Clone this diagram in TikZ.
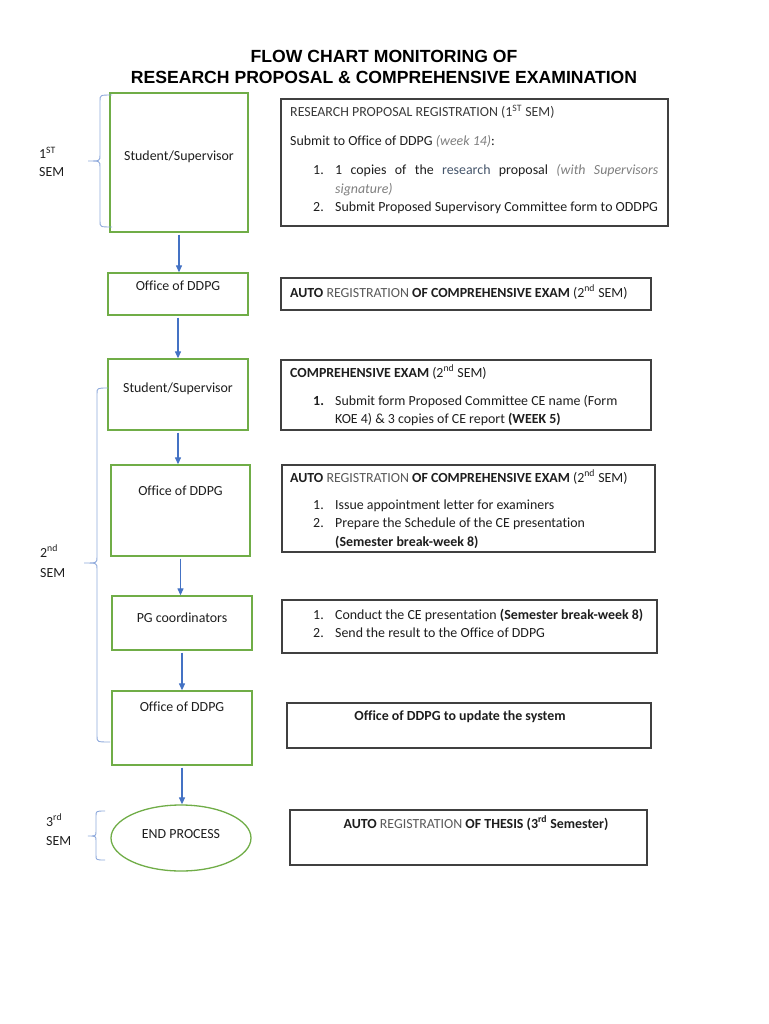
\documentclass[tikz,border=0pt]{standalone}
\usepackage{fontspec}
\setmainfont{Carlito}[Ligatures=NoCommon]
\newfontfamily\titlefont{Liberation Sans}
\usetikzlibrary{arrows.meta,shapes.geometric}

\definecolor{flowgreen}{HTML}{70AD47}
\definecolor{flowblue}{HTML}{4472C4}
\definecolor{bracelite}{HTML}{8FAADC}
\definecolor{regrey}{HTML}{595959}
\definecolor{notegrey}{HTML}{7F7F7F}
\definecolor{inkgrey}{HTML}{1E1E1E}
\definecolor{headgrey}{HTML}{3A3A3A}
\definecolor{boxline}{HTML}{404040}
\definecolor{resblue}{HTML}{44546A}

\newcommand{\ceitem}[2]{\hangindent=45pt\hangafter=1\relax\hspace*{23pt}\makebox[22pt][l]{#1}#2\par}
\newcommand{\regword}{\textcolor{regrey}{REGISTRATION}}

\tikzset{
  titletext/.style={font=\titlefont\bfseries\fontsize{17.6}{21}\selectfont, align=center, inner sep=0pt},
  stagebox/.style={draw=flowgreen, line width=1.3pt, minimum width=140pt, inner sep=0pt},
  stagelabel/.style={font=\fontsize{13.9}{15}\selectfont, text=inkgrey, inner sep=0pt},
  notebox/.style={draw=boxline, line width=1.2pt, inner sep=0pt},
  notetext/.style={anchor=base west, text width=#1, align=flush left, inner sep=0pt, text=inkgrey,
    font=\fontsize{13.9}{18.5}\selectfont},
  notetext/.default=360pt,
  notecenter/.style={anchor=base, inner sep=0pt, text=inkgrey, font=\fontsize{13.9}{15}\selectfont},
  semlabel/.style={anchor=base west, text width=40pt, align=flush left, inner sep=0pt, text=inkgrey,
    font=\fontsize{13.9}{18}\selectfont},
  flowarrow/.style={draw=flowblue, line width=1.2pt, -{Triangle[length=7pt,width=6pt]}, shorten <=2pt},
  bracepath/.style={draw=bracelite, line width=0.9pt}
}

\begin{document}
\begin{tikzpicture}[x=1pt,y=-1pt]
	\fill[white] (0,0) rectangle (768,1024);
	\useasboundingbox (0,0) rectangle (768,1024);
	\node[titletext] (title) at (384,67) {FLOW CHART MONITORING OF\\RESEARCH PROPOSAL \& COMPREHENSIVE EXAMINATION};

	% stages on the left
	\node[stagebox, minimum width=138pt, minimum height=139pt] (stud1) at (179,162.5) {};
	\node[stagebox, minimum height=42pt] (office1) at (178,294) {};
	\node[stagebox, minimum height=71pt] (stud2) at (178,394.5) {};
	\node[stagebox, minimum width=139pt, minimum height=91pt] (office2) at (180.5,510.5) {};
	\node[stagebox, minimum height=54pt] (pgc) at (182,623) {};
	\node[stagebox, minimum height=74pt] (office3) at (182,728) {};
	\node[stagebox, ellipse, minimum width=140pt, minimum height=66pt] (endp) at (181,838) {};
	\node[stagelabel] (stud1-l) at (179,157) {Student/Supervisor};
	\node[stagelabel] (office1-l) at (178,286) {Office of DDPG};
	\node[stagelabel] (stud2-l) at (178,389) {Student/Supervisor};
	\node[stagelabel] (office2-l) at (180.5,491) {Office of DDPG};
	\node[stagelabel] (pgc-l) at (182,618) {PG coordinators};
	\node[stagelabel] (office3-l) at (182,707) {Office of DDPG};
	\node[stagelabel] (endp-l) at (181,834) {END PROCESS};
	\foreach \a/\b in {stud1/office1,office1/stud2,stud2/office2,office2/pgc,pgc/office3,office3/endp}
		\draw[flowarrow] (\a.south) -- (\a.south |- \b.north);

	% semesters
	\draw[bracepath] (112,95) .. controls (100,95) .. (100,101) -- (100,155) .. controls (100,161) .. (88,161)
		.. controls (100,161) .. (100,167) -- (100,221) .. controls (100,227) .. (112,227);
	\draw[bracepath] (108,388) .. controls (97,388) .. (97,394) -- (97,557) .. controls (97,563) .. (84,563)
		.. controls (97,563) .. (97,569) -- (97,736) .. controls (97,742) .. (110,742);
	\draw[bracepath] (105,811) .. controls (96,811) .. (96,816) -- (96,831) .. controls (96,836) .. (88,836)
		.. controls (96,836) .. (96,841) -- (96,855) .. controls (96,860) .. (105,860);
	\node[semlabel] (sem1) at (39,159) {1\textsuperscript{ST}\\SEM};
	\node[semlabel] (sem2) at (40,557) {2\textsuperscript{nd}\\[2pt]SEM};
	\node[semlabel] (sem3) at (46,826) {3\textsuperscript{rd}\\[1pt]SEM};

	% notes on the right
	\node[notebox, minimum width=387pt, minimum height=127pt] (propreg) at (474.5,162.5) {};
	\node[notetext=368pt, align=justify] (propreg-t) at (290,117) {%
		\textcolor{headgrey}{RESEARCH PROPOSAL REGISTRATION (1\textsuperscript{ST} SEM)}\par\vspace{10.5pt}
		Submit to Office of DDPG \textcolor{notegrey}{\textit{(week 14)}}:\par\vspace{10.5pt}
		\ceitem{1.}{1 copies of the \textcolor{resblue}{research} proposal \textcolor{notegrey}{\textit{(with Supervisors\linebreak signature)}}}
		\ceitem{2.}{Submit Proposed Supervisory Committee form to ODDPG}};

	\node[notebox, minimum width=370pt, minimum height=32pt] (autoce1) at (466,294) {};
	\node[notetext] (autoce1-t) at (290,297) {\textbf{AUTO} \regword\ \textbf{OF COMPREHENSIVE EXAM} (2\textsuperscript{nd} SEM)};

	\node[notebox, minimum width=370pt, minimum height=70pt] (ceexam) at (466,395) {};
	\node[notetext] (ceexam-t) at (290,377) {%
		\textbf{COMPREHENSIVE EXAM} (2\textsuperscript{nd} SEM)\par\vspace{9.5pt}
		\ceitem{\textbf{1.}}{Submit form Proposed Committee CE name (Form\newline KOE 4) \& 3 copies of CE report \textbf{(WEEK 5)}}};

	\node[notebox, minimum width=373pt, minimum height=87pt] (autoce2) at (468.5,508.5) {};
	\node[notetext] (autoce2-t) at (290,482) {%
		\textbf{AUTO} \regword\ \textbf{OF COMPREHENSIVE EXAM} (2\textsuperscript{nd} SEM)\par\vspace{8.5pt}
		\ceitem{1.}{Issue appointment letter for examiners}
		\ceitem{2.}{Prepare the Schedule of the CE presentation\newline \textbf{(Semester break-week 8)}}};

	\node[notebox, minimum width=375pt, minimum height=53pt] (cepres) at (469.5,626.5) {};
	\node[notetext] (cepres-t) at (290,619) {%
		\ceitem{1.}{Conduct the CE presentation \textbf{(Semester break-week 8)}}
		\ceitem{2.}{Send the result to the Office of DDPG}};

	\node[notebox, minimum width=364pt, minimum height=45pt] (update) at (469,725.5) {};
	\node[notecenter] (update-t) at (460,720) {\textbf{Office of DDPG to update the system}};

	\node[notebox, minimum width=357pt, minimum height=55pt] (thesis) at (468.5,837.5) {};
	\node[notecenter] (thesis-t) at (476,828) {\textbf{AUTO} \regword\ \textbf{OF THESIS (3\textsuperscript{rd} Semester)}};
\end{tikzpicture}
\end{document}
